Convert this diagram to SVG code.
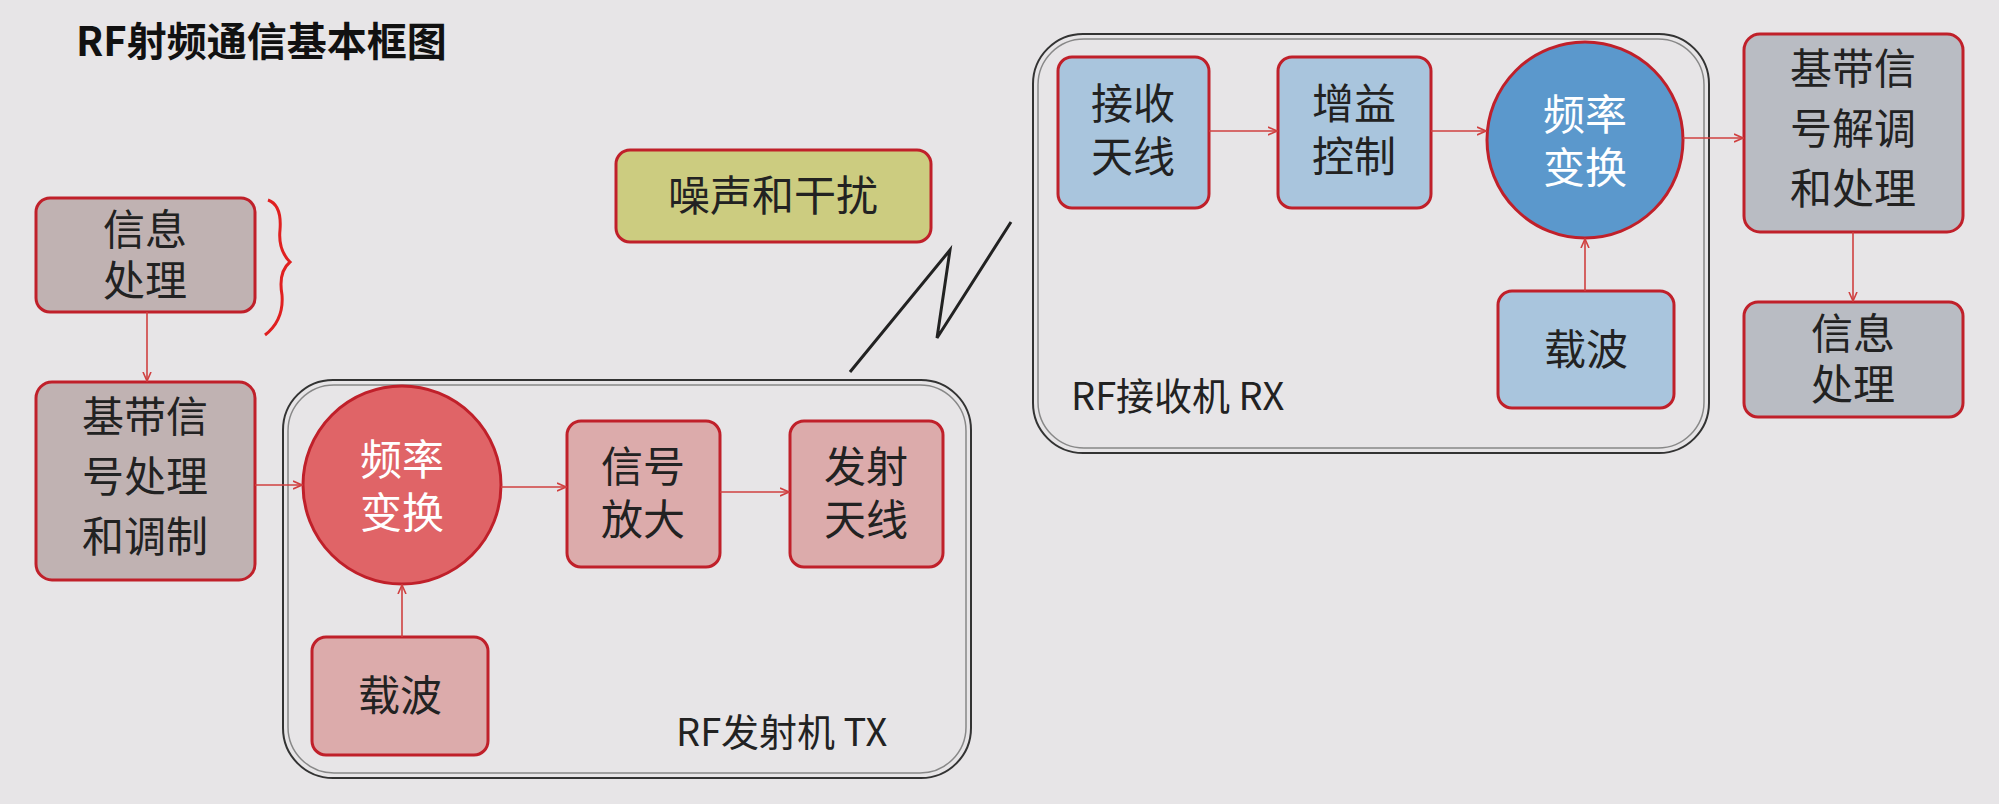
<svg xmlns="http://www.w3.org/2000/svg" width="1999" height="804" viewBox="0 0 1999 804">
<defs>
<style>
text{font-family:"Noto Sans CJK SC","Liberation Sans",sans-serif;text-anchor:middle;}
.n{font-size:42px;fill:#222;}
.w{font-size:42px;fill:#fff;}
.lbl{font-size:38px;fill:#222;text-anchor:start;}
.box{stroke:#c0202a;stroke-width:3;}
.con line{stroke:#d04040;stroke-width:1.6;marker-end:url(#a);}
.frame{fill:none;stroke:#333;stroke-width:2;}
.frame2{fill:none;stroke:#888;stroke-width:1.5;}
</style>
<marker id="a" markerWidth="10" markerHeight="10" refX="9" refY="5" orient="auto" markerUnits="userSpaceOnUse"><path d="M0,1 L9,5 L0,9" fill="none" stroke="#d04040" stroke-width="1.6"/></marker>
</defs>
<rect width="1999" height="804" fill="#e7e5e7"/>
<text x="76" y="56" style="font-size:40px;font-weight:bold;text-anchor:start;fill:#111">RF射频通信基本框图</text>

<g id="tx-frame"><rect x="283" y="380" width="688" height="398" rx="50" class="frame"/><rect x="288" y="385" width="678" height="388" rx="46" class="frame2"/>
<text x="676" y="746" class="lbl">RF发射机 TX</text></g>
<g id="rx-frame"><rect x="1033" y="34" width="676" height="419" rx="50" class="frame"/><rect x="1038" y="39" width="666" height="409" rx="46" class="frame2"/>
<text x="1071" y="410" class="lbl">RF接收机 RX</text></g>

<g id="info1"><rect x="36" y="198" width="219" height="114" rx="14" fill="#c0b2b2" class="box"/><text x="145" y="245" class="n">信息</text><text x="145" y="296" class="n">处理</text></g>
<path d="M268,200 Q282,205 280,230 Q278,250 290,262 Q278,272 282,295 Q284,320 265,335" fill="none" stroke="#e02020" stroke-width="3"/>
<g id="baseband"><rect x="36" y="382" width="219" height="198" rx="16" fill="#c0b2b2" class="box"/><text x="145" y="432" class="n">基带信</text><text x="145" y="492" class="n">号处理</text><text x="145" y="552" class="n">和调制</text></g>
<g id="tx-mix"><circle cx="402" cy="485" r="99" fill="#e06467" class="box"/><text x="402" y="475" class="w">频率</text><text x="402" y="528" class="w">变换</text></g>
<g id="amp"><rect x="567" y="421" width="153" height="146" rx="14" fill="#dcabab" class="box"/><text x="643" y="482" class="n">信号</text><text x="643" y="535" class="n">放大</text></g>
<g id="txant"><rect x="790" y="421" width="153" height="146" rx="14" fill="#dcabab" class="box"/><text x="866" y="482" class="n">发射</text><text x="866" y="535" class="n">天线</text></g>
<g id="txcarrier"><rect x="312" y="637" width="176" height="118" rx="14" fill="#dcabab" class="box"/><text x="400" y="711" class="n">载波</text></g>
<g id="noise"><rect x="616" y="150" width="315" height="92" rx="14" fill="#cccc80" class="box"/><text x="773" y="211" class="n">噪声和干扰</text></g>
<polyline points="850,372 950,250 937,338 1011,222" fill="none" stroke="#222" stroke-width="3"/>
<g id="rxant"><rect x="1058" y="57" width="151" height="151" rx="14" fill="#a9c5dd" class="box"/><text x="1133" y="119" class="n">接收</text><text x="1133" y="172" class="n">天线</text></g>
<g id="gain"><rect x="1278" y="57" width="153" height="151" rx="14" fill="#a9c5dd" class="box"/><text x="1354" y="119" class="n">增益</text><text x="1354" y="172" class="n">控制</text></g>
<g id="rx-mix"><circle cx="1585" cy="140" r="98" fill="#5b98cc" class="box"/><text x="1585" y="130" class="w">频率</text><text x="1585" y="183" class="w">变换</text></g>
<g id="rxcarrier"><rect x="1498" y="291" width="176" height="117" rx="14" fill="#a9c5dd" class="box"/><text x="1586" y="365" class="n">载波</text></g>
<g id="demod"><rect x="1744" y="34" width="219" height="198" rx="16" fill="#b9bcc3" class="box"/><text x="1853" y="84" class="n">基带信</text><text x="1853" y="144" class="n">号解调</text><text x="1853" y="204" class="n">和处理</text></g>
<g id="info2"><rect x="1744" y="302" width="219" height="115" rx="14" fill="#b9bcc3" class="box"/><text x="1853" y="349" class="n">信息</text><text x="1853" y="400" class="n">处理</text></g>

<g class="con">
<line x1="147" y1="312" x2="147" y2="381"/>
<line x1="255" y1="485" x2="302" y2="485"/>
<line x1="501" y1="487" x2="566" y2="487"/>
<line x1="720" y1="492" x2="789" y2="492"/>
<line x1="402" y1="637" x2="402" y2="585"/>
<line x1="1209" y1="131" x2="1277" y2="131"/>
<line x1="1431" y1="131" x2="1486" y2="131"/>
<line x1="1585" y1="291" x2="1585" y2="239"/>
<line x1="1683" y1="138" x2="1743" y2="138"/>
<line x1="1853" y1="232" x2="1853" y2="301"/>
</g>
</svg>
